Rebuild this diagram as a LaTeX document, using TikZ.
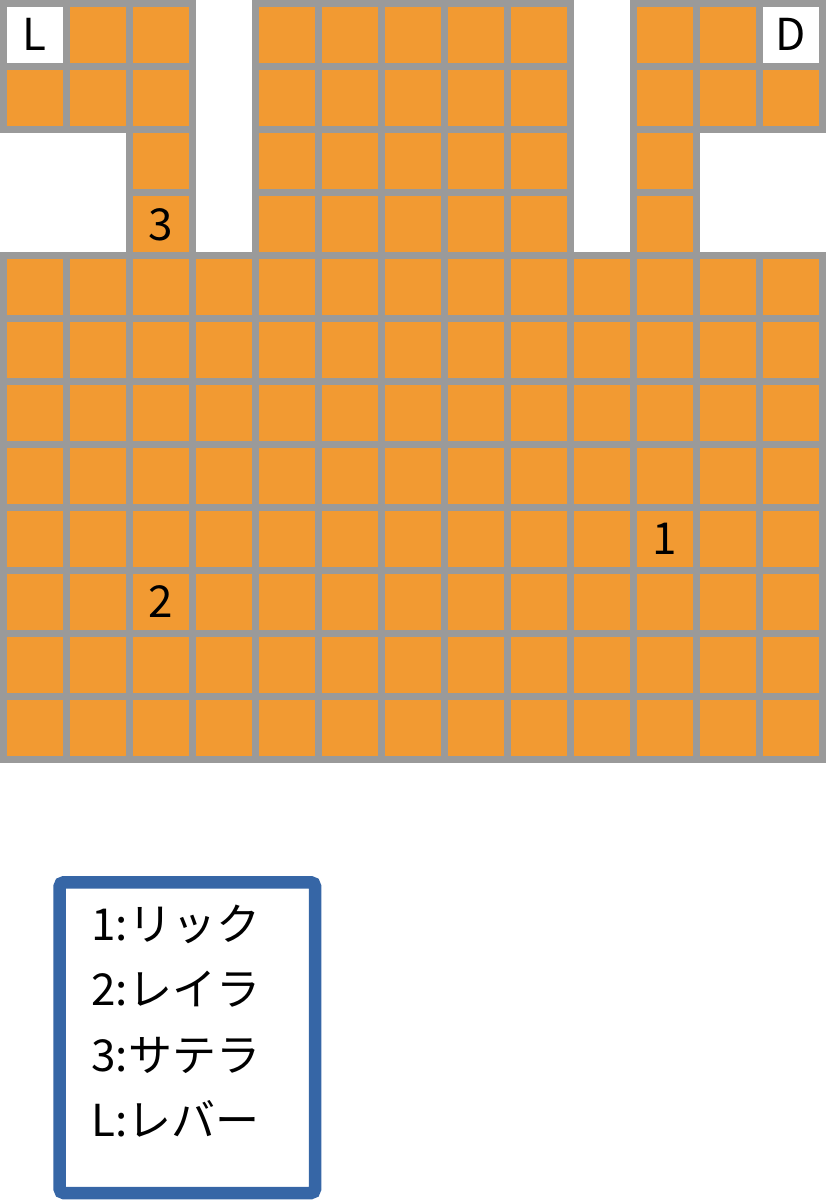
\documentclass[tikz,border=0pt]{standalone}
\usepackage{fontspec}
\setmainfont{Noto Sans CJK JP}
\definecolor{cellor}{RGB}{242,154,50}
\definecolor{gridgr}{RGB}{154,154,154}
\definecolor{legblue}{RGB}{54,102,166}
\begin{document}
\begin{tikzpicture}[x=0.5pt,y=-0.5pt,
  cellbox/.style={fill=cellor,draw=gridgr,line width=3.25pt},
  whitebox/.style={fill=white,draw=gridgr,line width=3.25pt},
  lbl/.style={font=\fontsize{22}{26}\selectfont,inner sep=0pt},
  legtext/.style={font=\fontsize{22}{26}\selectfont,inner sep=0pt,anchor=base west}]
\useasboundingbox (0,0) rectangle (826,1200);
% top part
\foreach \c/\r in {1/0,2/0,0/1,1/1,2/1,2/2,2/3,10/0,11/0,10/1,11/1,12/1,10/2,10/3}
  \draw[cellbox] ({3.3+63*\c},{3.3+63*\r}) rectangle ++(63,63);
\foreach \c in {4,...,8}
  \foreach \r in {0,...,3}
    \draw[cellbox] ({3.3+63*\c},{3.3+63*\r}) rectangle ++(63,63);
\draw[whitebox] (3.3,3.3) rectangle ++(63,63);
\draw[whitebox] ({3.3+63*12},3.3) rectangle ++(63,63);
% main part
\foreach \c in {0,...,12}
  \foreach \r in {4,...,11}
    \draw[cellbox] ({3.3+63*\c},{3.3+63*\r}) rectangle ++(63,63);
% labels
\node[lbl] (lL) at ({3.3+63*0.5},{3.3+63*0.5}) {L};
\node[lbl] (lD) at ({3.3+63*12.5},{3.3+63*0.5}) {D};
\node[lbl] (l3) at ({3.3+63*2.5},{3.3+63*3.5+1}) {3};
\node[lbl] (l1) at ({3.3+63*10.5},{3.3+63*8.5}) {1};
\node[lbl] (l2) at ({3.3+63*2.5},{3.3+63*9.5}) {2};
% legend
\draw[legblue,line width=6.25pt,rounded corners=2pt] (59.7,882.3) rectangle (315,1193);
\node[legtext] (t1) at (91,940) {1:リック};
\node[legtext] (t2) at (91,1005.7) {2:レイラ};
\node[legtext] (t3) at (91,1071.7) {3:サテラ};
\node[legtext] (t4) at (91,1136.7) {L:レバー};
\end{tikzpicture}
\end{document}
